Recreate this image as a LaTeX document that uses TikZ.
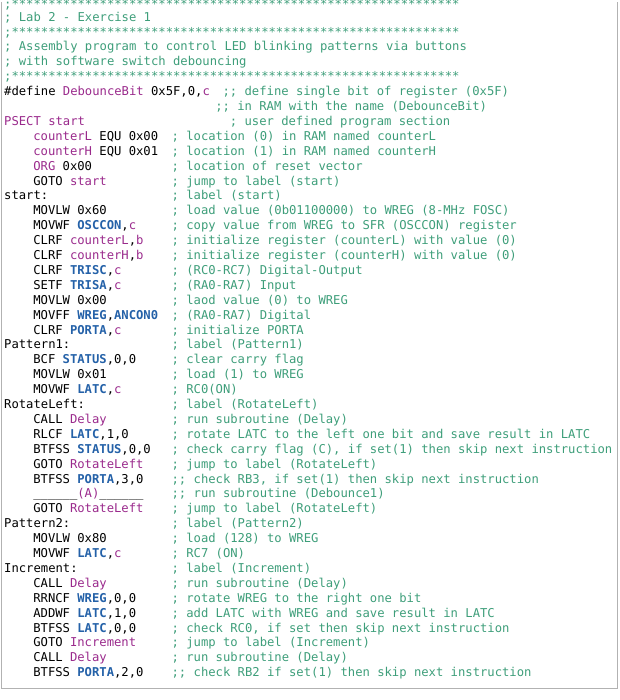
\documentclass[tikz,border=0pt]{standalone}
\usepackage{fontspec}
\setmonofont{DejaVu Sans Mono}
\definecolor{cmt}{HTML}{3E9E7A}
\definecolor{pur}{HTML}{9A2A8C}
\definecolor{blu}{HTML}{2461A8}
\newcommand{\cm}[1]{\textcolor{cmt}{#1}}
\newcommand{\pu}[1]{\textcolor{pur}{#1}}
\newcommand{\bl}[1]{\textcolor{blu}{\bfseries #1}}
\newcommand{\Ln}[3]{\node[codeline] (l#1c#2) at ({4+#2*7.28},{-(19+(#1-2)*14.9)}) {#3};}
\tikzset{codeline/.style={anchor=mid west,inner sep=0pt,font=\ttfamily\fontsize{12.2}{14}\selectfont,text=black}}
\begin{document}
\begin{tikzpicture}[x=1pt,y=1pt]
\useasboundingbox (0,0) rectangle (619,-700);
\draw[gray!60,line width=1pt] (1,-2) -- (1,-688) -- (617,-688) -- (617,-2);
\def\stars{;*************************************************************}
\node[codeline] (l1) at (4,-6) {\cm{\stars}};
\Ln{2}{0}{\cm{; Lab 2 - Exercise 1}}
\Ln{3}{0}{\cm{\stars}}
\Ln{4}{0}{\cm{; Assembly program to control LED blinking patterns via buttons}}
\Ln{5}{0}{\cm{; with software switch debouncing}}
\Ln{6}{0}{\cm{\stars}}
\Ln{7}{0}{\#define \pu{DebounceBit} 0x5F,0,\pu{c}}
\Ln{7}{30}{\cm{;; define single bit of register (0x5F)}}
\Ln{8}{29}{\cm{;; in RAM with the name (DebounceBit)}}
\Ln{9}{0}{\pu{PSECT start}}
\Ln{9}{31}{\cm{; user defined program section}}
\Ln{10}{4}{\pu{counterL} EQU 0x00}
\Ln{10}{23}{\cm{; location (0) in RAM named counterL}}
\Ln{11}{4}{\pu{counterH} EQU 0x01}
\Ln{11}{23}{\cm{; location (1) in RAM named counterH}}
\Ln{12}{4}{\pu{ORG} 0x00}
\Ln{12}{23}{\cm{; location of reset vector}}
\Ln{13}{4}{GOTO \pu{start}}
\Ln{13}{23}{\cm{; jump to label (start)}}
\Ln{14}{0}{start:}
\Ln{14}{23}{\cm{; label (start)}}
\Ln{15}{4}{MOVLW 0x60}
\Ln{15}{23}{\cm{; load value (0b01100000) to WREG (8-MHz FOSC)}}
\Ln{16}{4}{MOVWF \bl{OSCCON},\pu{c}}
\Ln{16}{23}{\cm{; copy value from WREG to SFR (OSCCON) register}}
\Ln{17}{4}{CLRF \pu{counterL},\pu{b}}
\Ln{17}{23}{\cm{; initialize register (counterL) with value (0)}}
\Ln{18}{4}{CLRF \pu{counterH},\pu{b}}
\Ln{18}{23}{\cm{; initialize register (counterH) with value (0)}}
\Ln{19}{4}{CLRF \bl{TRISC},\pu{c}}
\Ln{19}{23}{\cm{; (RC0-RC7) Digital-Output}}
\Ln{20}{4}{SETF \bl{TRISA},\pu{c}}
\Ln{20}{23}{\cm{; (RA0-RA7) Input}}
\Ln{21}{4}{MOVLW 0x00}
\Ln{21}{23}{\cm{; laod value (0) to WREG}}
\Ln{22}{4}{MOVFF \bl{WREG},\bl{ANCON0}}
\Ln{22}{23}{\cm{; (RA0-RA7) Digital}}
\Ln{23}{4}{CLRF \bl{PORTA},\pu{c}}
\Ln{23}{23}{\cm{; initialize PORTA}}
\Ln{24}{0}{Pattern1:}
\Ln{24}{23}{\cm{; label (Pattern1)}}
\Ln{25}{4}{BCF \bl{STATUS},0,0}
\Ln{25}{23}{\cm{; clear carry flag}}
\Ln{26}{4}{MOVLW 0x01}
\Ln{26}{23}{\cm{; load (1) to WREG}}
\Ln{27}{4}{MOVWF \bl{LATC},\pu{c}}
\Ln{27}{23}{\cm{; RC0(ON)}}
\Ln{28}{0}{RotateLeft:}
\Ln{28}{23}{\cm{; label (RotateLeft)}}
\Ln{29}{4}{CALL \pu{Delay}}
\Ln{29}{23}{\cm{; run subroutine (Delay)}}
\Ln{30}{4}{RLCF \bl{LATC},1,0}
\Ln{30}{23}{\cm{; rotate LATC to the left one bit and save result in LATC}}
\Ln{31}{4}{BTFSS \bl{STATUS},0,0}
\Ln{31}{23}{\cm{; check carry flag (C), if set(1) then skip next instruction}}
\Ln{32}{4}{GOTO \pu{RotateLeft}}
\Ln{32}{23}{\cm{; jump to label (RotateLeft)}}
\Ln{33}{4}{BTFSS \bl{PORTA},3,0}
\Ln{33}{23}{\cm{;; check RB3, if set(1) then skip next instruction}}
\Ln{34}{4}{\_\_\_\_\_\_\pu{(A)}\_\_\_\_\_\_}
\Ln{34}{23}{\cm{;; run subroutine (Debounce1)}}
\Ln{35}{4}{GOTO \pu{RotateLeft}}
\Ln{35}{23}{\cm{; jump to label (RotateLeft)}}
\Ln{36}{0}{Pattern2:}
\Ln{36}{23}{\cm{; label (Pattern2)}}
\Ln{37}{4}{MOVLW 0x80}
\Ln{37}{23}{\cm{; load (128) to WREG}}
\Ln{38}{4}{MOVWF \bl{LATC},\pu{c}}
\Ln{38}{23}{\cm{; RC7 (ON)}}
\Ln{39}{0}{Increment:}
\Ln{39}{23}{\cm{; label (Increment)}}
\Ln{40}{4}{CALL \pu{Delay}}
\Ln{40}{23}{\cm{; run subroutine (Delay)}}
\Ln{41}{4}{RRNCF \bl{WREG},0,0}
\Ln{41}{23}{\cm{; rotate WREG to the right one bit}}
\Ln{42}{4}{ADDWF \bl{LATC},1,0}
\Ln{42}{23}{\cm{; add LATC with WREG and save result in LATC}}
\Ln{43}{4}{BTFSS \bl{LATC},0,0}
\Ln{43}{23}{\cm{; check RC0, if set then skip next instruction}}
\Ln{44}{4}{GOTO \pu{Increment}}
\Ln{44}{23}{\cm{; jump to label (Increment)}}
\Ln{45}{4}{CALL \pu{Delay}}
\Ln{45}{23}{\cm{; run subroutine (Delay)}}
\Ln{46}{4}{BTFSS \bl{PORTA},2,0}
\Ln{46}{23}{\cm{;; check RB2 if set(1) then skip next instruction}}
\end{tikzpicture}
\end{document}
